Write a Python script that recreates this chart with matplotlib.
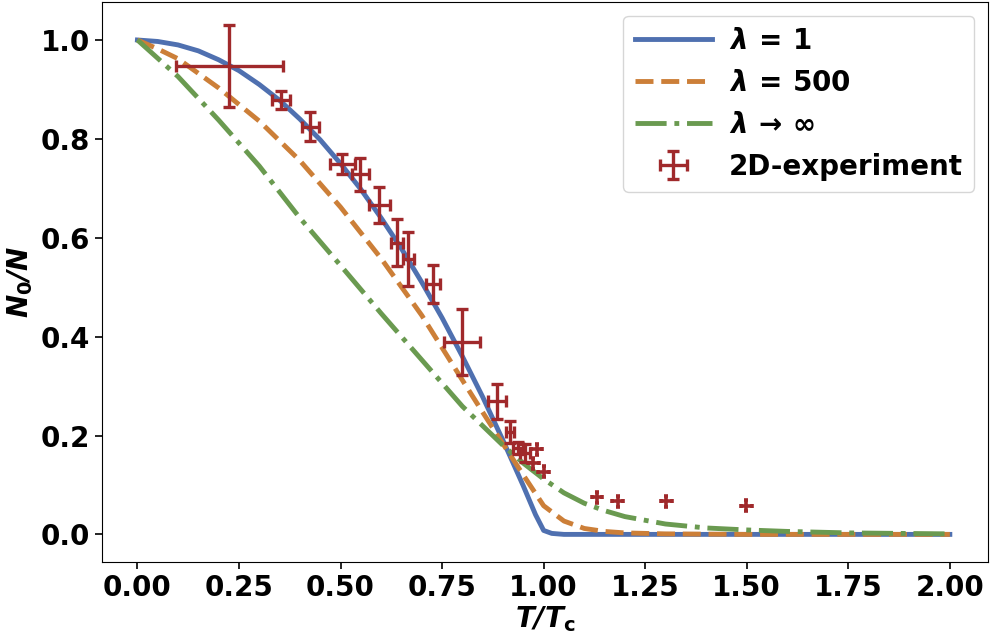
import numpy as np
import matplotlib
matplotlib.use("Agg")
import matplotlib.pyplot as plt

# ---- theory curves ----
x_l1 = [0.0, 0.05, 0.1, 0.15, 0.2, 0.25, 0.3, 0.35, 0.4, 0.45, 0.5, 0.55, 0.6, 0.65,
        0.7, 0.75, 0.8, 0.85, 0.9, 0.95, 0.98, 1.0, 1.02, 1.05, 1.1, 1.25, 1.5, 1.75, 2.0]
y_l1 = [1.000, 0.997, 0.990, 0.978, 0.960, 0.938, 0.910, 0.878, 0.840, 0.798, 0.750, 0.698,
        0.640, 0.578, 0.510, 0.438, 0.360, 0.278, 0.190, 0.098, 0.040, 0.008, 0.002, 0.0,
        0.0, 0.0, 0.0, 0.0, 0.0]

x_l500 = [0.0, 0.05, 0.1, 0.2, 0.3, 0.4, 0.5, 0.6, 0.7, 0.8, 0.85, 0.9, 0.95, 1.0, 1.05,
          1.1, 1.15, 1.2, 1.3, 1.5, 1.75, 2.0]
y_l500 = [1.0, 0.982, 0.962, 0.903, 0.836, 0.756, 0.662, 0.558, 0.443, 0.312, 0.247, 0.183,
          0.120, 0.058, 0.027, 0.012, 0.006, 0.003, 0.001, 0.0, 0.0, 0.0]

x_linf = [0.0, 0.05, 0.1, 0.2, 0.3, 0.4, 0.5, 0.6, 0.7, 0.8, 0.9, 0.95, 1.0, 1.05, 1.1,
          1.15, 1.2, 1.3, 1.4, 1.5, 1.6, 1.75, 2.0]
y_linf = [1.0, 0.963, 0.926, 0.838, 0.745, 0.640, 0.544, 0.447, 0.353, 0.259, 0.180, 0.144,
          0.112, 0.084, 0.063, 0.048, 0.036, 0.021, 0.013, 0.009, 0.006, 0.003, 0.001]

# ---- experimental data (points with visible error bars) ----
x_exp = [0.226, 0.353, 0.426, 0.504, 0.549, 0.595, 0.639, 0.667, 0.727, 0.799, 0.885,
         0.917, 0.937, 0.955]
y_exp = [0.947, 0.879, 0.825, 0.749, 0.728, 0.666, 0.590, 0.557, 0.507, 0.389, 0.269,
         0.207, 0.175, 0.165]
xerr_exp = [0.132, 0.022, 0.022, 0.031, 0.020, 0.026, 0.014, 0.014, 0.017, 0.045, 0.022,
            0.010, 0.012, 0.012]
yerr_exp = [0.083, 0.018, 0.030, 0.020, 0.033, 0.036, 0.048, 0.055, 0.038, 0.066, 0.035,
            0.022, 0.012, 0.018]

# ---- experimental data (small crosses) ----
x_exp2 = [0.975, 0.983, 1.0, 1.131, 1.182, 1.302, 1.499]
y_exp2 = [0.144, 0.172, 0.127, 0.075, 0.067, 0.067, 0.058]
xerr_exp2 = [0.013, 0.013, 0.013, 0.013, 0.013, 0.013, 0.013]
yerr_exp2 = [0.011, 0.011, 0.011, 0.011, 0.011, 0.011, 0.011]

labels = [r'$\mathbfit{\lambda}\,\mathbf{=}\,\mathbf{1}$',
          r'$\mathbfit{\lambda}\,\mathbf{=}\,\mathbf{500}$',
          r'$\mathbfit{\lambda}\,\mathbf{\rightarrow}\,\mathbf{\infty}$', '2D-experiment']

plt.rcParams['font.family'] = ['DejaVu Sans']
plt.rcParams['font.weight'] = 'bold'
plt.rcParams['mathtext.fontset'] = 'dejavusans'

fig = plt.figure(figsize=(9.91, 6.38), dpi=100)
ax = fig.add_axes([0.103, 0.119, 0.894, 0.878])

ax.plot(x_l1, y_l1, color='#4F70B0', lw=3.5, label=labels[0])
ax.plot(x_l500, y_l500, color='#CC7F38', lw=3.5, ls='--', label=labels[1])
ax.plot(x_linf, y_linf, color='#6A9A50', lw=3.5, ls='-.', label=labels[2])
ecol = '#A0292B'
ax.errorbar(x_exp, y_exp, xerr=xerr_exp, yerr=yerr_exp, fmt='none', ecolor=ecol,
            elinewidth=2.4, capsize=4, capthick=2.4, label=labels[3], zorder=5)
ax.errorbar(x_exp2, y_exp2, xerr=xerr_exp2, yerr=yerr_exp2, fmt='none', ecolor=ecol,
            elinewidth=2.6, capsize=1.2, capthick=2.6, zorder=5)

ax.set_xlim(-0.087, 2.094)
ax.set_ylim(-0.056, 1.077)
ax.set_xticks([0.0, 0.25, 0.5, 0.75, 1.0, 1.25, 1.5, 1.75, 2.0])
ax.set_xticklabels(['0.00', '0.25', '0.50', '0.75', '1.00', '1.25', '1.50', '1.75', '2.00'])
ax.set_yticks([0.0, 0.2, 0.4, 0.6, 0.8, 1.0])
ax.set_yticklabels(['0.0', '0.2', '0.4', '0.6', '0.8', '1.0'])
ax.tick_params(labelsize=20, length=5, width=1.2)
for lab in ax.get_xticklabels() + ax.get_yticklabels():
    lab.set_fontweight('bold')

ax.set_xlabel(r'$\mathbfit{T/T}_{\mathbf{c}}$', fontsize=20, labelpad=2)
ax.set_ylabel(r'$\mathbfit{N}_{\mathbf{0}}\mathbfit{/N}$', fontsize=20, labelpad=4)

leg = ax.legend(loc='upper right', handlelength=2.8, handletextpad=0.6,
                prop={'weight': 'bold', 'size': 20})

fig.savefig('out.png', dpi=100)
